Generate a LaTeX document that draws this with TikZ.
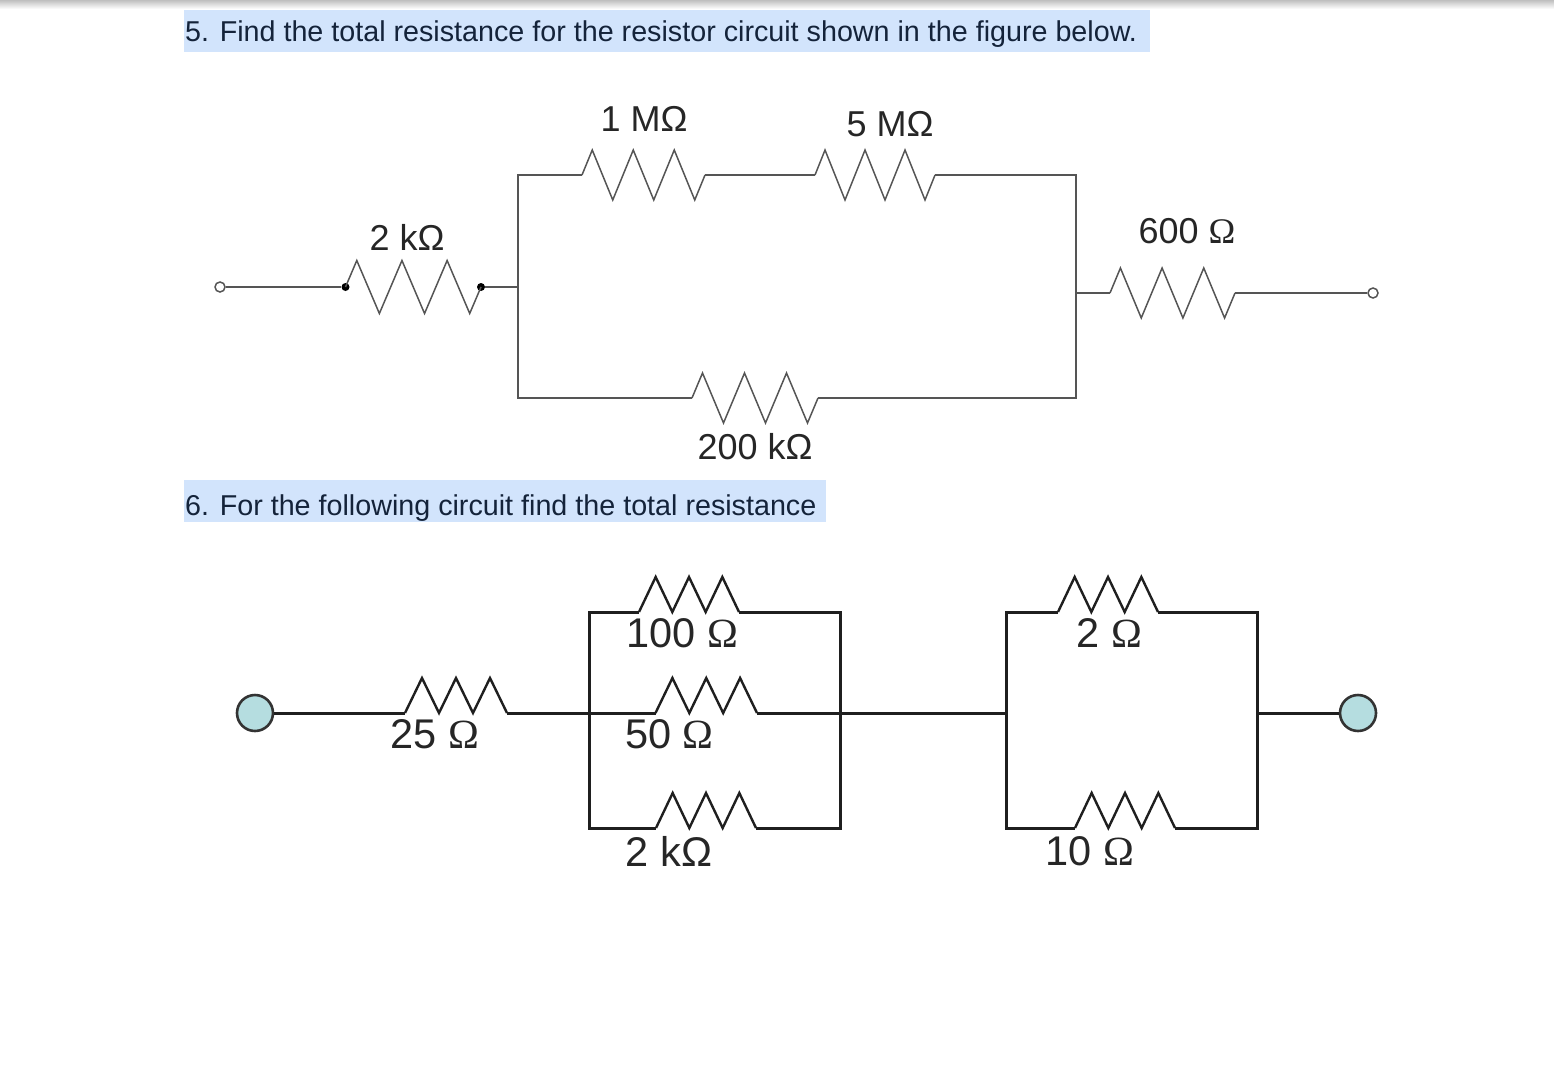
\documentclass[tikz,border=0pt]{standalone}
\usepackage{fontspec}
\setmainfont{Liberation Sans}
\newfontfamily\serifom{Liberation Serif}
\usetikzlibrary{calc}
\definecolor{hl}{HTML}{D2E4FC}
\definecolor{qtext}{HTML}{14233A}
\definecolor{wirea}{HTML}{555555}
\definecolor{termfill}{HTML}{B5DDE0}
\tikzset{
  thinwire/.style={draw=wirea,line width=1.5pt,line join=miter},
  thickwire/.style={draw=black!88,line width=3pt,line join=miter},
  zigwire/.style={draw=black!88,line width=2.4pt,line join=miter},
  question/.style={anchor=base west,inner sep=0pt,text=qtext,font=\fontsize{28.7}{34}\selectfont},
  labA/.style={inner sep=0pt,text=black!85,font=\fontsize{36}{42}\selectfont},
  labB/.style={inner sep=0pt,text=black!85,font=\fontsize{41.5}{48}\selectfont},
  smallterm/.style={circle,draw=wirea,fill=white,line width=1.5pt,minimum size=10pt,inner sep=0pt},
  bigterm/.style={circle,draw=black!80,fill=termfill,line width=2.6pt,minimum size=36pt,inner sep=0pt},
  blackdot/.style={circle,fill=black,minimum size=8pt,inner sep=0pt},
}
% #1 style, #2 start coord name, #3 end coord name, #4 half height
\newcommand{\zigA}[4]{%
  \draw[#1] (#2)
   -- ($(#2)!1/12!(#3)+(0,-#4)$) -- ($(#2)!3/12!(#3)+(0,#4)$)
   -- ($(#2)!5/12!(#3)+(0,-#4)$) -- ($(#2)!7/12!(#3)+(0,#4)$)
   -- ($(#2)!9/12!(#3)+(0,-#4)$) -- ($(#2)!11/12!(#3)+(0,#4)$) -- (#3);}
\newcommand{\zigB}[4]{%
  \draw[#1] (#2)
   -- ($(#2)!1/6!(#3)+(0,-#4)$) -- ($(#2)!2/6!(#3)$)
   -- ($(#2)!3/6!(#3)+(0,-#4)$) -- ($(#2)!4/6!(#3)$)
   -- ($(#2)!5/6!(#3)+(0,-#4)$) -- (#3);}
\begin{document}
\begin{tikzpicture}[x=1pt,y=-1pt]
\useasboundingbox (0,0) rectangle (1554,1070);
\shade[top color=black!25,bottom color=white] (0,0) rectangle (1554,9);
\fill[hl] (184,10) rectangle (1150,52);
\fill[hl] (184,480) rectangle (826,522);
\node[question] (q5) at (185,42) {5. Find the total resistance for the resistor circuit shown in the figure below.};
\node[question] (q6) at (185,515) {6. For the following circuit find the total resistance};

% circuit 1
\node[smallterm] (t1) at (220,287) {};
\node[smallterm] (t2) at (1373,293) {};
\node[blackdot] (d1) at (345.5,287) {};
\node[blackdot] (d2) at (481,287) {};
\coordinate (jl) at (518,287);
\coordinate (jr) at (1076,293);
\coordinate (tl) at (518,175);
\coordinate (tr) at (1076,175);
\coordinate (bl) at (518,398);
\coordinate (br) at (1076,398);
\coordinate (a1) at (582,175); \coordinate (a2) at (705,175);
\coordinate (b1) at (815,175); \coordinate (b2) at (935,175);
\coordinate (c1) at (692,398); \coordinate (c2) at (818,398);
\coordinate (e1) at (1110,293); \coordinate (e2) at (1235,293);
\draw[thinwire] (t1) -- (d1);
\zigA{thinwire}{d1.center}{d2.center}{26.5}
\draw[thinwire] (d2) -- (jl);
\draw[thinwire] (a1) -- (tl) -- (bl) -- (c1);
\zigA{thinwire}{a1}{a2}{25}
\draw[thinwire] (a2) -- (b1);
\zigA{thinwire}{b1}{b2}{25}
\draw[thinwire] (b2) -- (tr) -- (br) -- (c2);
\zigA{thinwire}{c1}{c2}{25}
\draw[thinwire] (jr) -- (e1);
\zigA{thinwire}{e1}{e2}{25}
\draw[thinwire] (e2) -- (t2);
\node[labA] (l1) at (644,119) {1 MΩ};
\node[labA] (l2) at (890,124) {5 MΩ};
\node[labA] (l3) at (407,237) {2 kΩ};
\node[labA] (l4) at (1187,231) {600 {\serifom Ω}};
\node[labA] (l5) at (755,447) {200 kΩ};

% circuit 2
\node[bigterm] (T1) at (255,713) {};
\node[bigterm] (T2) at (1358,713) {};
\coordinate (p1) at (405,713); \coordinate (p2) at (507,713);
\coordinate (JL) at (589,713); \coordinate (JR) at (840,713);
\coordinate (TL) at (589,612); \coordinate (TR) at (840,612);
\coordinate (BL) at (589,828); \coordinate (BR) at (840,828);
\coordinate (m1) at (639,612); \coordinate (m2) at (739,612);
\coordinate (n1) at (655.5,713); \coordinate (n2) at (757,713);
\coordinate (o1) at (656,828); \coordinate (o2) at (756,828);
\coordinate (JL2) at (1006,713); \coordinate (JR2) at (1257,713);
\coordinate (TL2) at (1006,612); \coordinate (TR2) at (1257,612);
\coordinate (BL2) at (1006,828); \coordinate (BR2) at (1257,828);
\coordinate (u1) at (1058,612); \coordinate (u2) at (1158,612);
\coordinate (v1) at (1075,828); \coordinate (v2) at (1175,828);
\draw[thickwire] (T1) -- (p1);
\zigB{zigwire}{p1}{p2}{35}
\draw[thickwire] (p2) -- (JL) -- (n1);
\zigB{zigwire}{n1}{n2}{35}
\draw[thickwire] (n2) -- (JR) -- (JL2);
\draw[thickwire] (m1) -- (TL) -- (BL) -- (o1);
\zigB{zigwire}{m1}{m2}{35}
\zigB{zigwire}{o1}{o2}{35}
\draw[thickwire] (m2) -- (TR) -- (BR) -- (o2);
\draw[thickwire] (u1) -- (TL2) -- (BL2) -- (v1);
\zigB{zigwire}{u1}{u2}{35}
\zigB{zigwire}{v1}{v2}{35}
\draw[thickwire] (u2) -- (TR2) -- (BR2) -- (v2);
\draw[thickwire] (JR2) -- (T2);
\node[labB] (s1) at (682.5,633) {100 {\serifom Ω}};
\node[labB] (s2) at (669.5,734) {50 {\serifom Ω}};
\node[labB] (s3) at (669,851) {2 kΩ};
\node[labB] (s4) at (435,734) {25 {\serifom Ω}};
\node[labB] (s5) at (1109.5,633) {2 {\serifom Ω}};
\node[labB] (s6) at (1090,851) {10 {\serifom Ω}};
\end{tikzpicture}
\end{document}
